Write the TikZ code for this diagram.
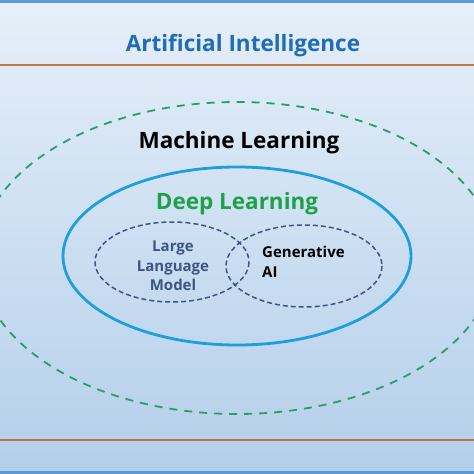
\documentclass[tikz,border=0pt]{standalone}
\usepackage{fontspec}
\setmainfont{Open Sans}[Ligatures=NoCommon]
\definecolor{bgtop}{HTML}{E6EFF9}
\definecolor{bgbot}{HTML}{B3CFEA}
\definecolor{borderblue}{HTML}{5B9BD5}
\definecolor{rule}{HTML}{C5622A}
\definecolor{aiblue}{HTML}{1F6DB4}
\definecolor{mlgreen}{HTML}{2A9D6E}
\definecolor{dlblue}{HTML}{1E9FDB}
\definecolor{dlgreen}{HTML}{1FA04A}
\definecolor{slate}{HTML}{3B5683}
\begin{document}
\begin{tikzpicture}[x=1pt,y=-1pt,
  rulebar/.style={draw=rule,line width=2pt,opacity=0.85},
  mlring/.style={draw=mlgreen,line width=1.8pt,dash pattern=on 8pt off 7pt},
  dlring/.style={draw=dlblue,line width=2.8pt},
  subring/.style={draw=slate,line width=1.5pt,dash pattern=on 5pt off 3pt},
  title/.style={font=\bfseries\fontsize{22.5}{26}\selectfont,anchor=base,inner sep=0pt},
  small/.style={font=\bfseries\fontsize{15}{19.5}\selectfont,inner sep=0pt}]
\useasboundingbox (0,0) rectangle (474,474);
\shade[top color=bgtop,bottom color=bgbot] (0,0) rectangle (474,474);
\fill[borderblue] (0,0) rectangle (474,3);
\fill[borderblue] (0,471) rectangle (474,474);
\coordinate (r1l) at (0,65); \coordinate (r1r) at (474,65);
\coordinate (r2l) at (0,440); \coordinate (r2r) at (474,440);
\draw[rulebar] (r1l) -- (r1r);
\draw[rulebar] (r2l) -- (r2r);
\node[title,text=aiblue] (ai) at (243,51) {Artificial Intelligence};
\begin{scope}
\clip (0,66) rectangle (474,439);
\draw[mlring] (237,258) ellipse [x radius=258, y radius=156];
\end{scope}
\node[title,text=black] (ml) at (239,148) {Machine Learning};
\draw[dlring] (237,256) ellipse [x radius=174, y radius=89];
\node[title,text=dlgreen] (dl) at (237,209) {Deep Learning};
\draw[subring] (172,262) ellipse [x radius=77, y radius=40];
\draw[subring] (304,266) ellipse [x radius=78, y radius=41];
\node[small,text=slate,align=center] (llm) at (173,266) {Large\\Language\\Model};
\node[small,text=black,align=left,anchor=west] (gen) at (262,262) {Generative\\AI};
\end{tikzpicture}
\end{document}
